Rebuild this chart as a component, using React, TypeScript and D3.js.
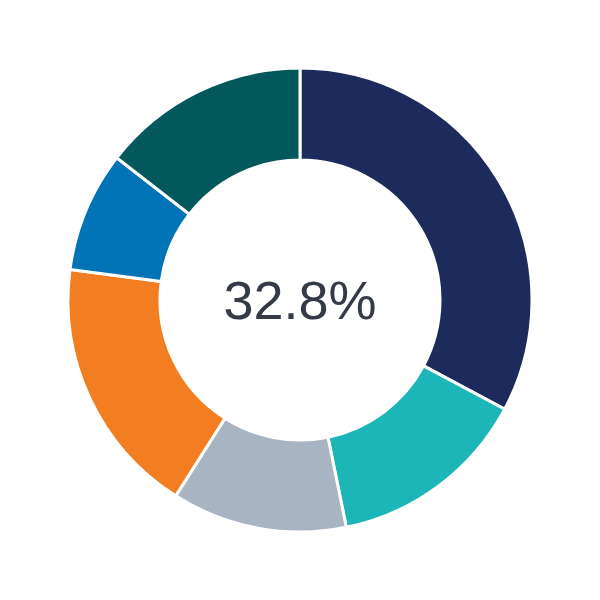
import { useMemo } from 'react';
import { pie, arc } from 'd3';

// slices clockwise from 12 o'clock
const categories = ['Navy', 'Teal', 'Gray', 'Orange', 'Blue', 'Green'];
const values = [32.8, 14.0, 12.2, 18.1, 8.4, 14.5];
const colors = ['#1c2b5b', '#1cb5b8', '#a9b4c3', '#f27e21', '#0074b6', '#02585a'];
const centerLabel = '32.8%';

const width = 600;
const height = 600;
const outerRadius = 232;
const innerRadius = 140;

const App = () => {
  const arcs = useMemo(
    () =>
      pie<number>()
        .sort(null)
        .value((d) => d)(values),
    [],
  );

  const arcGen = useMemo(
    () => arc<any>().innerRadius(innerRadius).outerRadius(outerRadius),
    [],
  );

  return (
    <svg
      width={width}
      height={height}
      style={{ position: 'absolute', left: 0, top: 0, background: '#fff' }}
    >
      <g transform={`translate(${width / 2}, ${height / 2})`}>
        {arcs.map((a, i) => (
          <path
            key={categories[i]}
            d={arcGen(a) || ''}
            fill={colors[i]}
            stroke="#fff"
            strokeWidth={3}
          />
        ))}
        <text
          x={0}
          y={0}
          dy="0.36em"
          textAnchor="middle"
          fontFamily="'Liberation Sans', Arial, sans-serif"
          fontSize={54}
          fill="#343a46"
        >
          {centerLabel}
        </text>
      </g>
    </svg>
  );
};

export default App;
